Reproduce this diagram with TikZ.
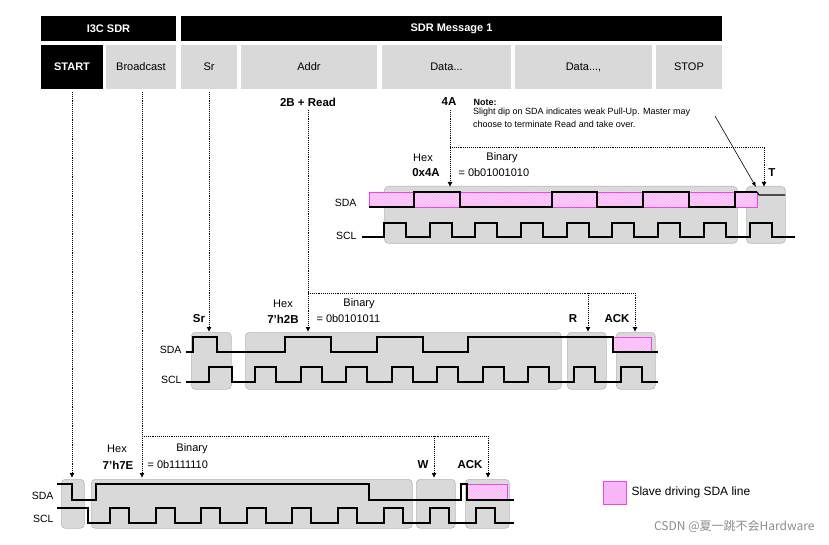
\documentclass[tikz,border=0pt]{standalone}
\usepackage{fontspec}
\setmainfont{Liberation Sans}
\newfontfamily\cjk{Noto Sans CJK SC}
\usetikzlibrary{patterns,arrows.meta}
\definecolor{boxg}{HTML}{D9D9D9}
\definecolor{boxb}{HTML}{B8B8B8}
\definecolor{pinkf}{HTML}{F9B6F6}
\definecolor{pinkb}{HTML}{EE44EE}
\newcommand\mydataA{Data...}
\newcommand\mydataB{Data...,}
\begin{document}
\begin{tikzpicture}[x=1pt,y=-1pt,
  hdr/.style={fill=black,text=white,font=\fontsize{11}{12}\selectfont\bfseries},
  sub/.style={fill=boxg,text=black,font=\fontsize{11}{12}\selectfont},
  seg/.style={fill=boxg,draw=boxb,rounded corners=4pt,line width=0.6pt},
  wave/.style={line width=1.1pt,black},
  pinkbox/.style={fill=pinkf,draw=pinkb,line width=0.6pt},
  hatch/.style={pattern=north east lines,pattern color=white!55!pinkf},
  dot/.style={densely dotted,line width=0.9pt,black},
  dotarr/.style={dot,-{Latex[length=5pt,width=5pt]}},
  lab/.style={font=\fontsize{11}{12}\selectfont},
  blab/.style={font=\fontsize{11.5}{12}\selectfont\bfseries},
  sig/.style={font=\fontsize{10.5}{12}\selectfont,anchor=east}]
\useasboundingbox (0,0) rectangle (829,545);
% header
\fill[black] (41,16) rectangle (176,41);
\fill[black] (181,16) rectangle (722,41);
\node[hdr] (h1) at (108.5,28.5) {I3C SDR};
\node[hdr] (h2) at (451.5,28.5) {SDR Message 1};
\fill[black] (41,45) rectangle (103,89);
\node[hdr] (hs) at (72,67) {START};
\foreach \a/\b/\t/\n in {106/176/Broadcast/hb,181/237/Sr/hsr,241/377/Addr/ha,382/511/\mydataA/hd1,515/652/\mydataB/hd2,656/722/STOP/hst}{
  \fill[boxg] (\a,45) rectangle (\b,89);
  \node[sub] (\n) at ({(\a+\b)/2},67) {\t};
}
% ---------- top section ----------
\node[seg,minimum width=353pt,minimum height=57pt,anchor=north west,inner sep=0pt] (tb1) at (384,186) {};
\node[seg,minimum width=39pt,minimum height=57pt,anchor=north west,inner sep=0pt] (tb2) at (746,186) {};
\fill[pinkf] (369,192) rectangle (757,207);
\fill[hatch] (369,192) rectangle (757,207);
\draw[pinkb,line width=0.6pt] (369,192) rectangle (757,207);
\draw[wave] (369,207) -- (414,207) -- (414,192) -- (460,192) -- (460,207) -- (552,207) -- (552,192) -- (597,192) -- (597,207) -- (643,207) -- (643,192) -- (689,192) -- (689,207) -- (735,207) -- (735,192) -- (757,192);
\draw[wave] (757,192) -- (759,195) -- (785,195);
\draw[wave] (362,237) foreach \x in {384,430,475,521,567,612,658,704,750}{ -- (\x,237) -- (\x,223) -- ({\x+22},223) -- ({\x+22},237)} -- (795,237);
\node[sig] (tsda) at (360,203) {SDA};
\node[sig] (tscl) at (360,236) {SCL};
\node[lab] (thex) at (423,158) {Hex};
\node[blab] (t4a) at (426,173) {0x4A};
\node[lab] (tbin) at (502,158) {Binary};
\node[lab,anchor=west] (tval) at (455,173) {= 0b01001010};
\node[blab] (tT) at (772,173) {T};
\node[blab] (l4a) at (449,102) {4A};
\node[font=\fontsize{9}{10}\selectfont\bfseries,anchor=west] (note) at (470,102) {Note:};
\node[font=\fontsize{9}{12.5}\selectfont,anchor=north west,align=left,inner sep=0pt] (notetxt) at (473,108) {Slight dip on SDA indicates weak Pull-Up. Master may\\choose to terminate Read and take over.};
\coordinate (n4a) at (450,110);
\coordinate (a4a) at (450,187);
\coordinate (j4a) at (450,147);
\coordinate (jT) at (764,147);
\coordinate (aT) at (764,187);
\draw[dotarr] (n4a) -- (a4a);
\draw[dotarr] (j4a) -- (jT) -- (aT);
\coordinate (ns) at (715,116);
\coordinate (ne) at (756,187);
\draw[line width=0.6pt,-{Latex[length=5pt,width=4pt]}] (ns) -- (ne);
% ---------- middle section ----------
\node[seg,minimum width=40pt,minimum height=57pt,anchor=north west,inner sep=0pt] (mb1) at (191,332) {};
\node[seg,minimum width=316pt,minimum height=57pt,anchor=north west,inner sep=0pt] (mb2) at (245,332) {};
\node[seg,minimum width=39pt,minimum height=57pt,anchor=north west,inner sep=0pt] (mb3) at (567,332) {};
\node[seg,minimum width=39pt,minimum height=57pt,anchor=north west,inner sep=0pt] (mb4) at (616,332) {};
\fill[pinkf] (613,337) rectangle (651,352);
\fill[hatch] (613,337) rectangle (651,352);
\draw[pinkb,line width=0.6pt] (613,337) rectangle (651,352);
\draw[wave] (186,352) -- (193,352) -- (193,337) -- (217,337) -- (217,352) -- (285,352) -- (285,337) -- (331,337) -- (331,352) -- (377,352) -- (377,337) -- (423,337) -- (423,352) -- (468,352) -- (468,337) -- (613,337) -- (613,352) -- (658,352);
\draw[wave] (186,382) -- (209,382) -- (209,367) -- (232,367) -- (232,382) foreach \x in {255,301,346,392,437,483,528,574,621}{ -- (\x,382) -- (\x,367) -- ({\x+21},367) -- ({\x+21},382)} -- (658,382);
\node[sig] (msda) at (185,350) {SDA};
\node[sig] (mscl) at (185,380) {SCL};
\node[blab] (msr) at (199,319) {Sr};
\node[lab] (mhex) at (283,304) {Hex};
\node[blab] (m2b) at (283,319) {7'h2B};
\node[lab] (mbin) at (359,304) {Binary};
\node[lab,anchor=west] (mval) at (313,319) {= 0b0101011};
\node[blab] (mR) at (573,319) {R};
\node[blab] (mack) at (617,319) {ACK};
\node[blab] (l2b) at (308,102) {2B + Read};
\coordinate (dsr) at (209,92);
\coordinate (asr) at (209,332);
\draw[dotarr] (dsr) -- (asr);
\coordinate (dad) at (308,110);
\coordinate (aad) at (308,332);
\coordinate (jad) at (308,293);
\coordinate (jack) at (635,293);
\coordinate (aack) at (635,332);
\coordinate (jR) at (588,293);
\coordinate (aR) at (588,332);
\draw[dotarr] (dad) -- (aad);
\draw[dotarr] (jad) -- (jack) -- (aack);
\draw[dotarr] (jR) -- (aR);
% ---------- bottom section ----------
\node[seg,minimum width=23pt,minimum height=49pt,anchor=north west,inner sep=0pt] (bb1) at (61,479) {};
\node[seg,minimum width=321pt,minimum height=49pt,anchor=north west,inner sep=0pt] (bb2) at (91,479) {};
\node[seg,minimum width=39pt,minimum height=49pt,anchor=north west,inner sep=0pt] (bb3) at (416,479) {};
\node[seg,minimum width=44pt,minimum height=49pt,anchor=north west,inner sep=0pt] (bb4) at (465,479) {};
\fill[pinkf] (467,484) rectangle (507,500);
\fill[hatch] (467,484) rectangle (507,500);
\draw[pinkb,line width=0.6pt] (467,484) rectangle (507,500);
\draw[wave] (57,484) -- (72,484) -- (72,500) -- (96,500) -- (96,484) -- (369,484) -- (369,500) -- (461,500) -- (461,484) -- (467,484) -- (467,500) -- (514,500);
\draw[wave] (57,508) -- (88,508) -- (88,523) foreach \x in {110,156,201,247,292,338,384,430,476}{ -- (\x,523) -- (\x,508) -- ({\x+19},508) -- ({\x+19},523)} -- (514,523);
\node[sig] (bsda) at (57,496) {SDA};
\node[sig] (bscl) at (57,519) {SCL};
\node[lab] (bhex) at (117,449) {Hex};
\node[blab] (b7e) at (118,465) {7'h7E};
\node[lab] (bbin) at (192,449) {Binary};
\node[lab,anchor=west] (bval) at (144,465) {= 0b1111110};
\node[blab] (bW) at (423,465) {W};
\node[blab] (back) at (470,465) {ACK};
\coordinate (dst) at (72,92);
\coordinate (ast) at (72,478);
\draw[dotarr] (dst) -- (ast);
\coordinate (dbc) at (142,92);
\coordinate (abc) at (142,478);
\coordinate (jbc) at (142,436);
\coordinate (jback) at (488,436);
\coordinate (aback) at (488,478);
\coordinate (jW) at (434,436);
\coordinate (aW) at (434,478);
\draw[dotarr] (dbc) -- (abc);
\draw[dotarr] (jbc) -- (jback) -- (aback);
\draw[dotarr] (jW) -- (aW);
% legend
\node[fill=pinkf,draw=pinkb,line width=0.5pt,minimum size=23pt,inner sep=0pt] (leg) at (614.5,492.5) {};
\node[font=\fontsize{12}{14}\selectfont,anchor=west] (legt) at (628,492.5) {Slave driving SDA line};
\node[font=\cjk\fontsize{12}{14}\selectfont,text=black!45,anchor=east] (wm) at (818,526) {CSDN @夏一跳不会Hardware};
\end{tikzpicture}
\end{document}
